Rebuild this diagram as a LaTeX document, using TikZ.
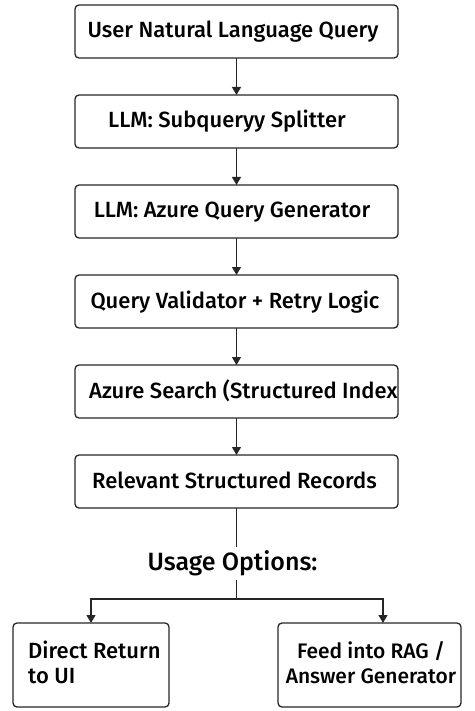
\documentclass[tikz,border=0pt]{standalone}
\usepackage{fontspec}
\setmainfont{Fira Sans}[BoldFont={* Medium}]
\usetikzlibrary{arrows.meta}
\begin{document}
\begin{tikzpicture}[x=1pt,y=-1pt,
  box/.style={draw=black!85,line width=1.3pt,rounded corners=4pt},
  lbl/.style={inner sep=0pt,font=\fontsize{22}{26}\selectfont\bfseries},
  small/.style={inner sep=0pt,font=\fontsize{21}{25}\selectfont\bfseries},
  conn/.style={line width=1.3pt,draw=black!85,-{Triangle[length=8pt,width=9pt]}},
  plain/.style={line width=1.3pt,draw=black!85}]
\useasboundingbox (0,0) rectangle (474,711);
\foreach \n/\t in {1/5,2/95,3/185,4/275,5/365,6/455}{
  \draw[box] (75,\t) rectangle (398,\t+53);
  \coordinate (t\n) at (236.5,\t);
  \coordinate (b\n) at (236.5,\t+53);
}
\node[lbl,anchor=base] (l1) at (233,38) {User Natural Language Query};
\node[lbl,anchor=base] (l2) at (227,128) {LLM: Subqueryy Splitter};
\node[lbl,anchor=base] (l3) at (232,218) {LLM: Azure Query Generator};
\node[lbl,anchor=base] (l4) at (235,308) {Query Validator + Retry Logic};
\node[lbl,anchor=base west] (l5) at (89,398) {Azure Search (Structured Index};
\node[lbl,anchor=base] (l6) at (234.5,488) {Relevant Structured Records};
\draw[conn] (b1) -- (t2);
\draw[conn] (b2) -- (t3);
\draw[conn] (b3) -- (t4);
\draw[conn] (b4) -- (t5);
\draw[conn] (b5) -- (t6);
\node[inner sep=0pt,font=\fontsize{25}{29}\selectfont\bfseries,anchor=base] (uo) at (232.5,570) {Usage Options:};
\coordinate (u1) at (236.5,547);
\coordinate (u2) at (236.5,580);
\coordinate (j) at (236.5,599);
\coordinate (jl) at (91,599);
\coordinate (jr) at (383,599);
\draw[plain] (b6) -- (u1);
\draw[plain] (u2) -- (j);
\draw[box] (13,623) rectangle (169,707);
\draw[box] (278,623) rectangle (461,707);
\coordinate (tl) at (91,623);
\coordinate (tr) at (383,623);
\draw[conn] (j) -- (jl) -- (tl);
\draw[conn] (j) -- (jr) -- (tr);
\node[lbl,anchor=base west] (dl) at (28,658) {Direct Return};
\node[lbl,anchor=base west] (dl2) at (28,683) {to UI};
\node[small,anchor=base] (fr) at (371,658) {Feed into RAG /};
\node[small,anchor=base] (fr2) at (371,683) {Answer Generator};
\end{tikzpicture}
\end{document}
